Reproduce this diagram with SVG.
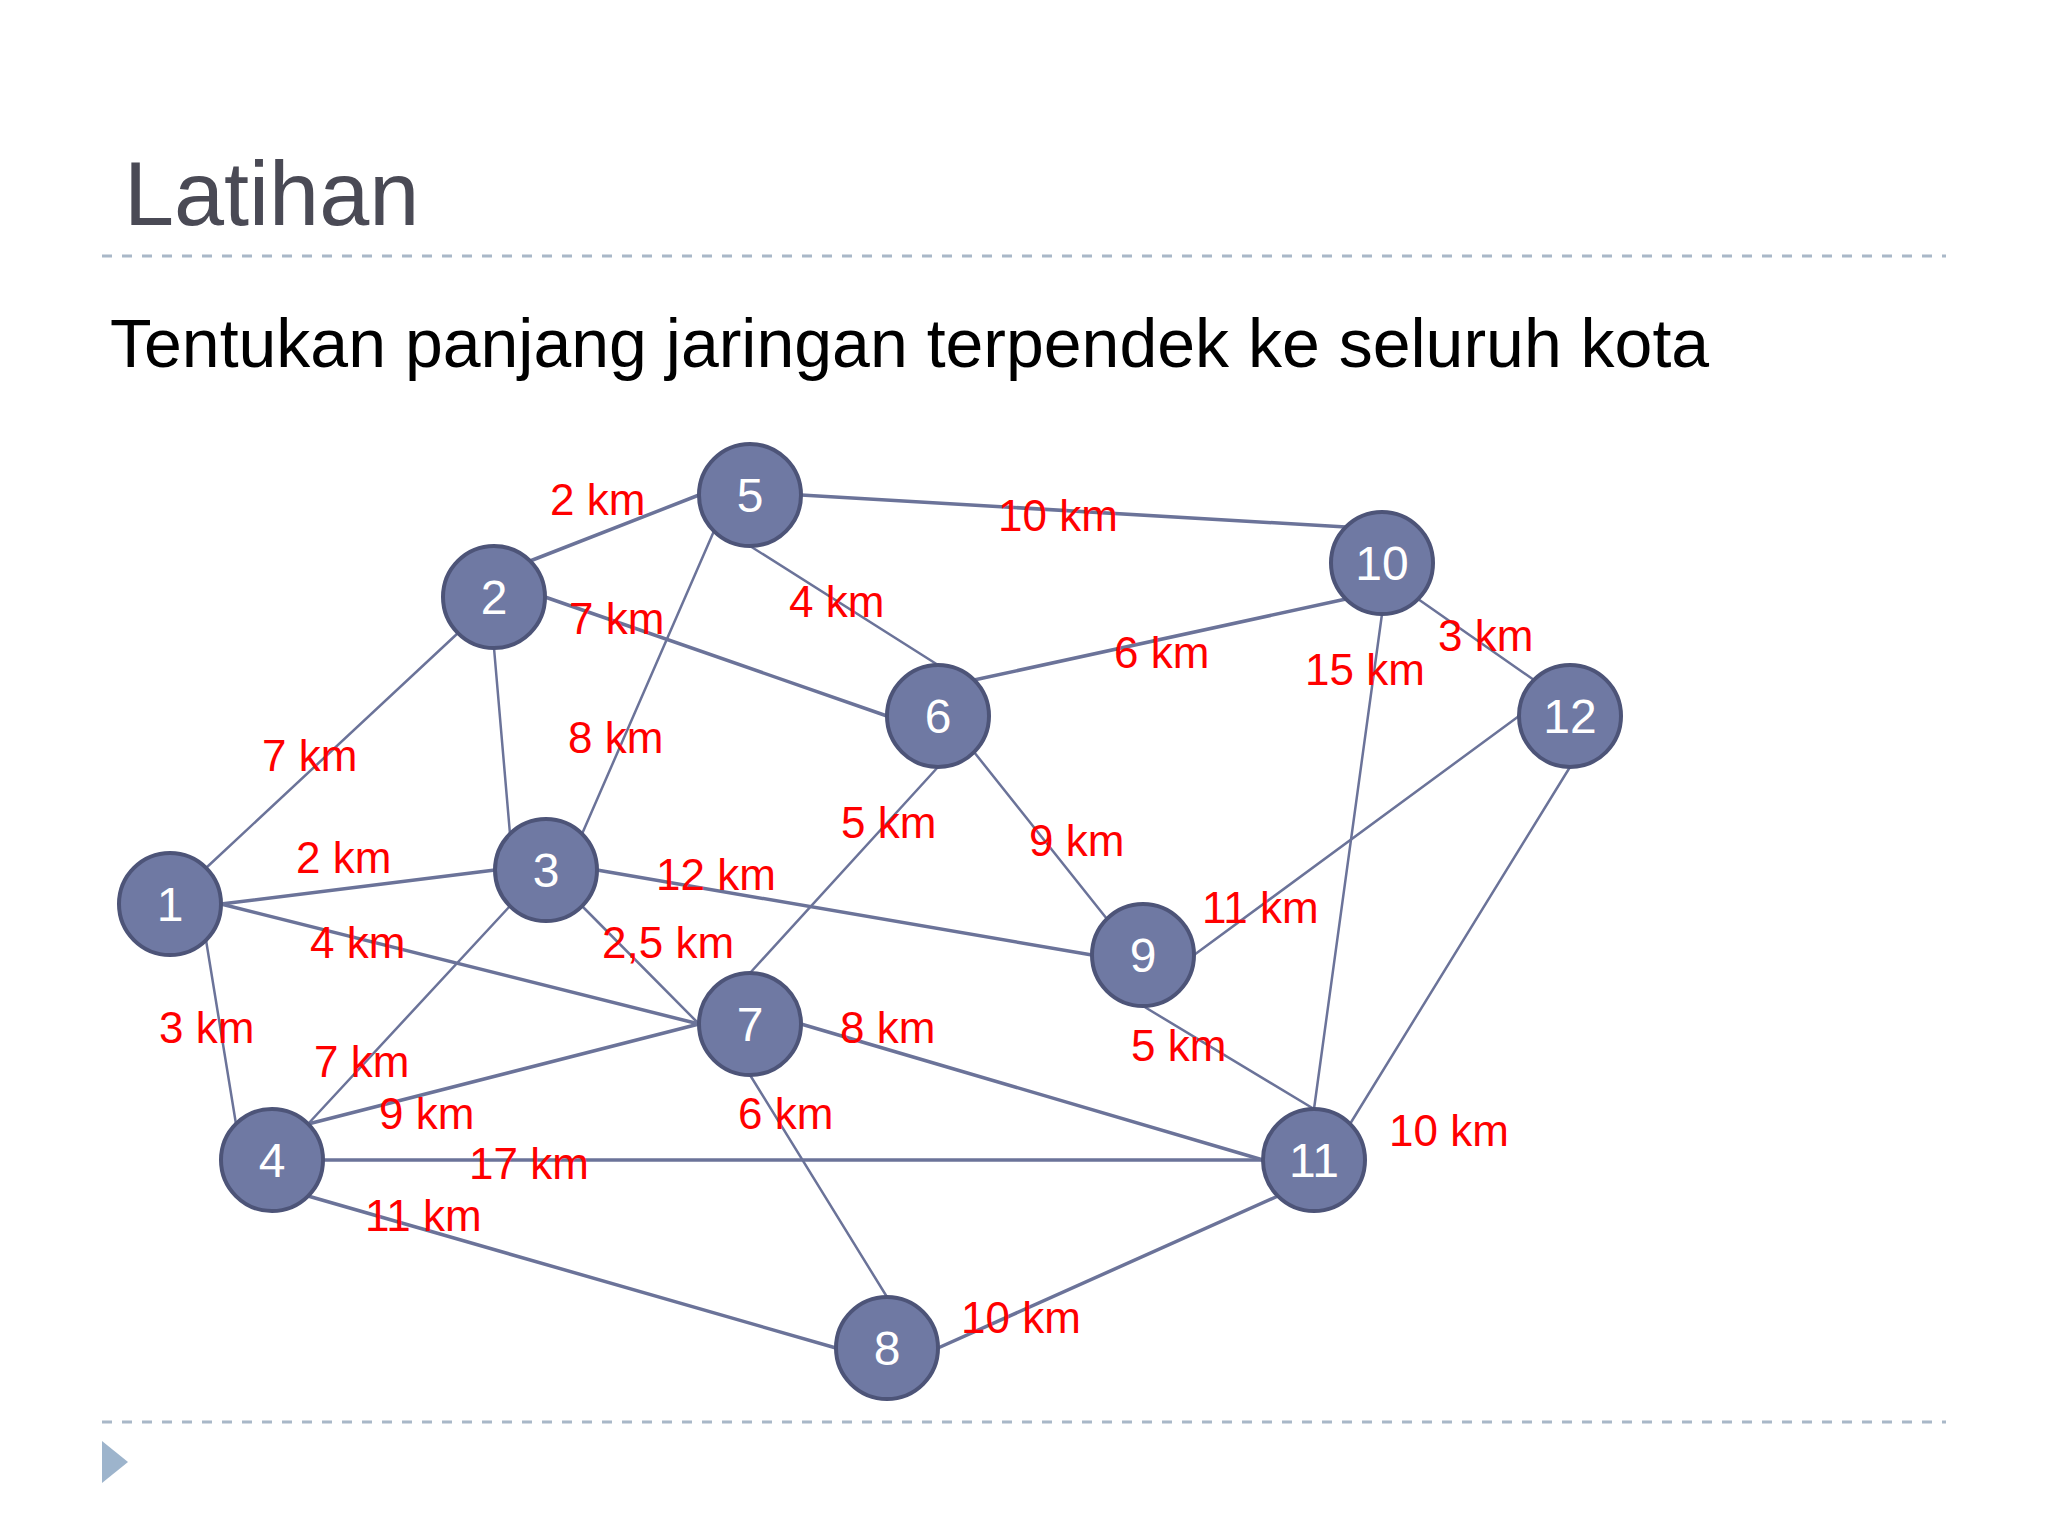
<svg xmlns="http://www.w3.org/2000/svg" width="2048" height="1536" viewBox="0 0 2048 1536">
<style>
.e{stroke:#6b7399;fill:none;stroke-linecap:round}
.t{stroke-width:3.5}
.n{stroke-width:2.5}
.nd circle{fill:#6f79a3;stroke:#4d5478;stroke-width:4}
.nd text{fill:#ffffff;font-family:"Liberation Sans",Arial,sans-serif;font-size:48px;text-anchor:middle}
.lb{fill:#ff0000;font-family:"Liberation Sans",Arial,sans-serif;font-size:44px}
.dash{stroke:#a9b8c8;stroke-width:3;stroke-dasharray:10 10;fill:none}
</style>
<rect width="2048" height="1536" fill="#ffffff"/>
<text x="124" y="225" font-family="'Liberation Sans',Arial,sans-serif" font-size="90" fill="#4a4a55">Latihan</text>
<line class="dash" x1="102" y1="256" x2="1946" y2="256"/>
<text x="110" y="367" font-family="'Liberation Sans',Arial,sans-serif" font-size="68" fill="#000000">Tentukan panjang jaringan terpendek ke seluruh kota</text>
<line class="dash" x1="102" y1="1422" x2="1946" y2="1422"/>
<polygon points="102,1441 128,1462 102,1483" fill="#9db4cc"/>
<g id="connectors">
<line class="e n" x1="206" y1="868" x2="458" y2="633"/>
<line class="e t" x1="221" y1="904" x2="495" y2="870"/>
<line class="e t" x1="221" y1="904" x2="699" y2="1024"/>
<line class="e n" x1="206" y1="940" x2="236" y2="1124"/>
<line class="e t" x1="530" y1="561" x2="699" y2="495"/>
<line class="e t" x1="545" y1="597" x2="887" y2="716"/>
<line class="e n" x1="494" y1="648" x2="510" y2="834"/>
<line class="e n" x1="582" y1="834" x2="714" y2="531"/>
<line class="e t" x1="597" y1="870" x2="1092" y2="955"/>
<line class="e n" x1="582" y1="906" x2="699" y2="1024"/>
<line class="e n" x1="510" y1="906" x2="308" y2="1124"/>
<line class="e t" x1="308" y1="1124" x2="699" y2="1024"/>
<line class="e t" x1="323" y1="1160" x2="1263" y2="1160"/>
<line class="e t" x1="308" y1="1196" x2="836" y2="1348"/>
<line class="e t" x1="801" y1="495" x2="1346" y2="527"/>
<line class="e n" x1="750" y1="546" x2="938" y2="665"/>
<line class="e t" x1="974" y1="680" x2="1346" y2="599"/>
<line class="e n" x1="938" y1="767" x2="750" y2="973"/>
<line class="e n" x1="974" y1="752" x2="1107" y2="919"/>
<line class="e t" x1="801" y1="1024" x2="1263" y2="1160"/>
<line class="e n" x1="750" y1="1075" x2="887" y2="1297"/>
<line class="e n" x1="1194" y1="955" x2="1519" y2="716"/>
<line class="e n" x1="1143" y1="1006" x2="1314" y2="1109"/>
<line class="e n" x1="1418" y1="599" x2="1534" y2="680"/>
<line class="e n" x1="1382" y1="614" x2="1314" y2="1109"/>
<line class="e n" x1="1570" y1="767" x2="1350" y2="1124"/>
<line class="e t" x1="938" y1="1348" x2="1278" y2="1196"/>
</g>
<g id="labels">
<text class="lb" x="550" y="515">2 km</text>
<text class="lb" x="569" y="634">7 km</text>
<text class="lb" x="262" y="771">7 km</text>
<text class="lb" x="568" y="753">8 km</text>
<text class="lb" x="296" y="873">2 km</text>
<text class="lb" x="656" y="890">12 km</text>
<text class="lb" x="998" y="531">10 km</text>
<text class="lb" x="789" y="617">4 km</text>
<text class="lb" x="1114" y="668">6 km</text>
<text class="lb" x="1305" y="685">15 km</text>
<text class="lb" x="1438" y="651">3 km</text>
<text class="lb" x="841" y="838">5 km</text>
<text class="lb" x="1029" y="856">9 km</text>
<text class="lb" x="1202" y="923">11 km</text>
<text class="lb" x="310" y="958">4 km</text>
<text class="lb" x="602" y="958">2,5 km</text>
<text class="lb" x="159" y="1043">3 km</text>
<text class="lb" x="314" y="1077">7 km</text>
<text class="lb" x="840" y="1043">8 km</text>
<text class="lb" x="379" y="1129">9 km</text>
<text class="lb" x="738" y="1129">6 km</text>
<text class="lb" x="469" y="1179">17 km</text>
<text class="lb" x="365" y="1231">11 km</text>
<text class="lb" x="961" y="1333">10 km</text>
<text class="lb" x="1131" y="1061">5 km</text>
<text class="lb" x="1389" y="1146">10 km</text>
</g>
<g id="node1" class="nd"><circle cx="170" cy="904" r="51"/><text x="170" y="921">1</text></g>
<g id="node2" class="nd"><circle cx="494" cy="597" r="51"/><text x="494" y="614">2</text></g>
<g id="node3" class="nd"><circle cx="546" cy="870" r="51"/><text x="546" y="887">3</text></g>
<g id="node4" class="nd"><circle cx="272" cy="1160" r="51"/><text x="272" y="1177">4</text></g>
<g id="node5" class="nd"><circle cx="750" cy="495" r="51"/><text x="750" y="512">5</text></g>
<g id="node6" class="nd"><circle cx="938" cy="716" r="51"/><text x="938" y="733">6</text></g>
<g id="node7" class="nd"><circle cx="750" cy="1024" r="51"/><text x="750" y="1041">7</text></g>
<g id="node8" class="nd"><circle cx="887" cy="1348" r="51"/><text x="887" y="1365">8</text></g>
<g id="node9" class="nd"><circle cx="1143" cy="955" r="51"/><text x="1143" y="972">9</text></g>
<g id="node10" class="nd"><circle cx="1382" cy="563" r="51"/><text x="1382" y="580">10</text></g>
<g id="node11" class="nd"><circle cx="1314" cy="1160" r="51"/><text x="1314" y="1177">11</text></g>
<g id="node12" class="nd"><circle cx="1570" cy="716" r="51"/><text x="1570" y="733">12</text></g>
</svg>
